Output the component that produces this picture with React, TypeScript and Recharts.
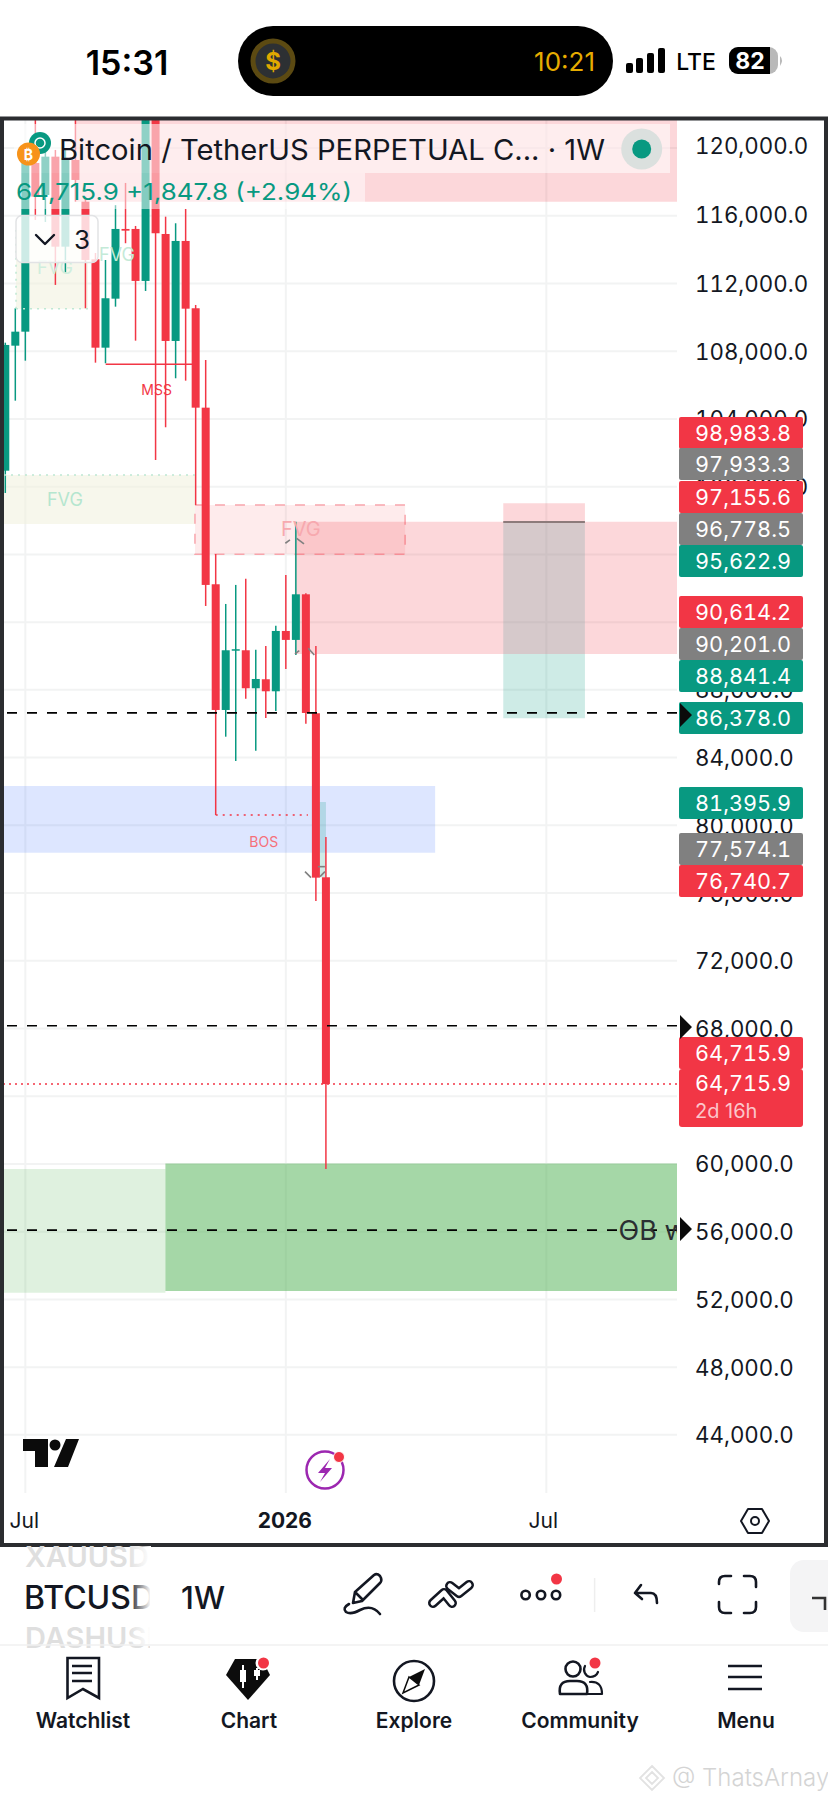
import { Bar, CartesianGrid, ComposedChart, ReferenceArea, ReferenceDot, ReferenceLine, XAxis, YAxis } from "recharts"

const weeks = [0, 1, 2, 3, 4, 5, 6, 7, 8, 9, 10, 11, 12, 13, 14, 15, 16, 17, 18, 19, 20, 21, 22, 23, 24, 25, 26, 27, 28, 29, 30, 31, 32]
const opens = [100945, 108327, 109154, 119117, 117228, 119490, 114174, 119295, 116832, 113430, 108209, 111103, 115220, 115220, 112150, 121650, 114923, 108605, 114511, 110536, 104666, 94236, 86812, 90338, 90338, 88094, 88626, 87916, 91478, 90950, 93643, 86617, 76931]
const highs = [108504, 110536, 119300, 121650, 119993, 119886, 119886, 121650, 117127, 113802, 113388, 116625, 117937, 115397, 121650, 121650, 115946, 115556, 116401, 110731, 107482, 96025, 93073, 94197, 94566, 90373, 90592, 91791, 94785, 97933, 93700, 90592, 79305]
const lows = [99628, 105079, 107441, 115752, 115632, 111915, 112639, 116832, 110536, 107323, 107288, 110631, 114377, 108623, 111558, 101577, 103508, 106402, 106260, 98919, 92954, 80609, 85234, 83800, 87480, 84408, 86340, 86753, 89233, 90060, 86003, 75530, 59700]
const closes = [108369, 109154, 119117, 117127, 119490, 114174, 119413, 118114, 113388, 108209, 111127, 115220, 115120, 112150, 121650, 114966, 108605, 114511, 110512, 104666, 94197, 86812, 90338, 90400, 88094, 88642, 87916, 91478, 90950, 93643, 86635, 76909, 64716]

const priceTicks = [44000, 48000, 52000, 56000, 60000, 64000, 68000, 72000, 76000, 80000, 84000, 88000, 92000, 96000, 100000, 104000, 108000, 112000, 116000, 120000]
const timeTicks = [2, 28, 54]
const timeLabels: Record<number, string> = { 2: "Jul", 28: "2026", 54: "Jul" }

const tagValues = ["98,983.8", "97,933.3", "97,155.6", "96,778.5", "95,622.9", "90,614.2", "90,201.0", "88,841.4", "86,378.0", "81,395.9", "77,574.1", "76,740.7", "64,715.9"]
const tagKinds = ["r", "g", "r", "g", "t", "r", "g", "t", "t", "t", "g", "r", "r"]
const tagTops = [417, 448, 481, 513, 545, 596, 628, 660, 702, 787, 833, 865, 1037]

const candles = weeks.map((w, i) => ({ w, o: opens[i], h: highs[i], l: lows[i], c: closes[i], range: [lows[i], highs[i]] }))

const GREEN = "#089981"
const RED = "#F23645"
const INK = "#131722"
const FONT = "Inter, 'Noto Sans', sans-serif"
const X_MIN = -0.13
const X_MAX = 67.04
const Y_MIN = 40567
const Y_MAX = 121655

const arrows = [
  [27.95, 96657, 28.41, 96852], [29.08, 96953, 29.81, 96616],
  [28.91, 90119, 29.34, 90314], [30.24, 90456, 30.84, 90060],
  [29.91, 77262, 30.51, 76908], [31.41, 76967, 31.9, 77262],
  [31.2, 77558, 31.9, 77558],
]

function Candle(props: any) {
  const { x, y, width, height, payload } = props
  const perPrice = height / (payload.h - payload.l)
  const top = y + (payload.h - Math.max(payload.o, payload.c)) * perPrice
  const bottom = y + (payload.h - Math.min(payload.o, payload.c)) * perPrice
  const color = payload.c >= payload.o ? GREEN : RED
  const cx = x + width / 2
  return (
    <g>
      <line x1={cx} x2={cx} y1={y} y2={y + height} stroke={color} strokeWidth={1.5} />
      <rect x={x} y={top} width={width} height={Math.max(bottom - top, 1.5)} fill={color} />
    </g>
  )
}

function TimeTick(props: any) {
  const { x, y, payload } = props
  const bold = payload.value === 28
  const nudge = payload.value === 54 ? -3 : payload.value === 2 ? -1 : -1
  return (
    <text x={x + nudge} y={y} textAnchor="middle" dominantBaseline="central" fontSize={21} fontWeight={bold ? 700 : 400} fontFamily={FONT} fill={INK}>
      {timeLabels[payload.value]}
    </text>
  )
}

function PriceTick(props: any) {
  const { x, y, payload } = props
  // the top labels get nudged up by the app
  const nudge = payload.value === 120000 ? -3 : payload.value === 116000 ? -1 : 0
  return (
    <text x={x} y={y + nudge} dominantBaseline="central" fontSize={22.3} fontFamily={FONT} fill={INK} style={{ fontVariantNumeric: "tabular-nums" }}>
      {`${payload.value.toLocaleString("en-US")}.0`}
    </text>
  )
}

function zoneLabel(value: string, fill: string, fontSize: number, clip?: boolean) {
  return (p: any) => (
    <text x={p.viewBox.x} y={p.viewBox.y} textAnchor="middle" dominantBaseline="central" fill={fill} fontSize={fontSize} fontFamily={FONT} clipPath={clip ? "url(#plotClip)" : undefined}>
      {value}
    </text>
  )
}

function Chart() {
  return (
    <ComposedChart width={828} height={1800} data={candles} margin={{ top: 120, left: 4, right: 4, bottom: 257 }}>
      <defs>
        <clipPath id="plotClip">
          <rect x={4} y={120} width={673} height={1373} />
        </clipPath>
      </defs>
      <CartesianGrid stroke="#f2f3f3" strokeWidth={2} syncWithTicks />
      <XAxis dataKey="w" type="number" domain={[X_MIN, X_MAX]} allowDataOverflow ticks={timeTicks} interval={0} height={50} axisLine={false} tickLine={false} tickMargin={21} tick={<TimeTick />} />
      <YAxis orientation="right" type="number" domain={[Y_MIN, Y_MAX]} allowDataOverflow ticks={priceTicks} interval={0} width={147} axisLine={false} tickLine={false} tickMargin={12} tick={<PriceTick />} />

      <ReferenceArea x1={7.06} x2={X_MAX} y1={116830} y2={Y_MAX} fill={RED} fillOpacity={0.2} ifOverflow="visible" />
      <ReferenceArea x1={1.07} x2={8.25} y1={110512} y2={115160} fill="#f1f1dc" fillOpacity={0.55} ifOverflow="visible" />
      <ReferenceArea x1={X_MIN} x2={18.93} y1={97797} y2={100691} fill="#f1f1dc" fillOpacity={0.55} ifOverflow="visible" />
      <ReferenceArea x1={18.93} x2={39.9} y1={96008} y2={98919} fill={RED} fillOpacity={0.1} stroke="#f8a5ac" strokeDasharray="10 10" strokeWidth={1.5} ifOverflow="visible" />
      <ReferenceArea x1={28.9} x2={X_MAX} y1={90120} y2={97933} fill={RED} fillOpacity={0.2} ifOverflow="visible" />
      <ReferenceArea x1={49.7} x2={57.85} y1={97915} y2={99020} fill={RED} fillOpacity={0.2} ifOverflow="visible" />
      <ReferenceArea x1={49.7} x2={57.85} y1={90120} y2={97915} fill="#7fa8a8" fillOpacity={0.3} ifOverflow="visible" />
      <ReferenceArea x1={49.7} x2={57.85} y1={86322} y2={90120} fill={GREEN} fillOpacity={0.2} ifOverflow="visible" />
      <ReferenceArea x1={X_MIN} x2={42.9} y1={78384} y2={82324} fill="#2962ff" fillOpacity={0.16} ifOverflow="visible" />
      <ReferenceArea x1={31.3} x2={32} y1={78384} y2={81376} fill={GREEN} fillOpacity={0.2} ifOverflow="visible" />
      <ReferenceArea x1={31.3} x2={32} y1={76930} y2={78384} fill={GREEN} fillOpacity={0.2} ifOverflow="visible" />
      <ReferenceArea x1={X_MIN} x2={15.98} y1={52390} y2={59700} fill="#4caf50" fillOpacity={0.18} ifOverflow="visible" />
      <ReferenceArea x1={15.98} x2={X_MAX} y1={52500} y2={60025} fill="#4caf50" fillOpacity={0.5} ifOverflow="visible" />

      <ReferenceLine segment={[{ x: X_MIN, y: 100691 }, { x: 18.93, y: 100691 }]} stroke="#bfe8d4" strokeDasharray="2 5" strokeWidth={1.5} ifOverflow="visible" />
      <ReferenceLine segment={[{ x: 1.07, y: 110512 }, { x: 8.25, y: 110512 }]} stroke="#bfe8d4" strokeDasharray="2 5" strokeWidth={1.5} ifOverflow="visible" />
      <ReferenceLine segment={[{ x: 1.07, y: 110512 }, { x: 1.07, y: 115160 }]} stroke="#bfe8d4" strokeDasharray="2 5" strokeWidth={1.5} ifOverflow="visible" />
      <ReferenceLine segment={[{ x: 49.7, y: 97915 }, { x: 57.85, y: 97915 }]} stroke="#8d7b7b" strokeWidth={2} ifOverflow="visible" />

      <Bar dataKey="range" barSize={8} shape={<Candle />} isAnimationActive={false} />

      <ReferenceLine segment={[{ x: 10.02, y: 107229 }, { x: 18.7, y: 107229 }]} stroke={RED} strokeWidth={1.5} ifOverflow="visible" />
      <ReferenceLine segment={[{ x: 21, y: 80610 }, { x: 30.2, y: 80610 }]} stroke={RED} strokeDasharray="2 5" strokeWidth={1.5} ifOverflow="visible" />
      <ReferenceLine y={86640} stroke="#000" strokeDasharray="10 10" strokeWidth={1.6} ifOverflow="visible" />
      <ReferenceLine y={68160} stroke="#000" strokeDasharray="10 10" strokeWidth={1.6} ifOverflow="visible" />
      <ReferenceLine y={56090} stroke="#000" strokeDasharray="10 10" strokeWidth={1.6} ifOverflow="visible" />
      <ReferenceLine y={64716} stroke={RED} strokeDasharray="2 4" strokeWidth={1.5} ifOverflow="visible" />
      {arrows.map((a, i) => (
        <ReferenceLine key={i} segment={[{ x: a[0], y: a[1] }, { x: a[2], y: a[3] }]} stroke="#808080" strokeWidth={1.6} ifOverflow="visible" />
      ))}

      <ReferenceDot x={5.95} y={99240} r={0} ifOverflow="visible" label={zoneLabel("FVG", "#b5e6cf", 18)} />
      <ReferenceDot x={4.96} y={112960} r={0} ifOverflow="visible" label={zoneLabel("FVG", "#cfeedd", 18)} />
      <ReferenceDot x={11.15} y={113740} r={0} ifOverflow="visible" label={zoneLabel("FVG", "#c4ead8", 18)} />
      <ReferenceDot x={29.5} y={97520} r={0} ifOverflow="visible" label={zoneLabel("FVG", "#f7a9af", 20)} />
      <ReferenceDot x={15.1} y={105750} r={0} ifOverflow="visible" label={zoneLabel("MSS", RED, 14)} />
      <ReferenceDot x={25.8} y={79070} r={0} ifOverflow="visible" label={zoneLabel("BOS", "#f5707a", 14)} />
      <ReferenceDot x={64.6} y={56090} r={0} ifOverflow="visible" label={zoneLabel("ΘB w", "#2b2f33", 27, true)} />
    </ComposedChart>
  )
}

function Chrome() {
  const stroke = { fill: "none", stroke: INK, strokeWidth: 2.6, strokeLinecap: "round", strokeLinejoin: "round" } as any
  const tnum = { fontVariantNumeric: "tabular-nums" }
  const navLabels: [string, number][] = [["Watchlist", 83], ["Chart", 249], ["Explore", 414], ["Community", 580], ["Menu", 746]]
  return (
    <svg width={828} height={1800} style={{ position: "absolute", left: 0, top: 0 }} fontFamily={FONT}>
      <defs>
        <clipPath id="symClip"><rect x={24} y={1540} width={126} height={110} /></clipPath>
        <linearGradient id="symFade" x1="0" x2="1" y1="0" y2="0">
          <stop offset="0" stopColor="#fff" stopOpacity={0} />
          <stop offset="1" stopColor="#fff" />
        </linearGradient>
      </defs>

      {/* legend panes sit above the candles */}
      <rect x={14} y={124} width={656} height={49} fill="#fff" fillOpacity={0.55} />
      <rect x={14} y={173} width={351} height={36} fill="#fff" fillOpacity={0.5} />
      <rect x={16} y={215.5} width={82} height={47} rx={6} fill="#fff" fillOpacity={0.8} stroke="#e2e3e5" strokeWidth={1.5} />

      <circle cx={40} cy={143} r={11} fill={GREEN} />
      <circle cx={40} cy={143} r={5} fill="none" stroke="#fff" strokeWidth={1.5} />
      <circle cx={28.5} cy={154} r={11.5} fill="#f7931a" />
      <text x={28.5} y={154} textAnchor="middle" dominantBaseline="central" fill="#fff" fontSize={14} fontWeight={700}>₿</text>
      <text x={59} y={150} dominantBaseline="central" fontSize={28} fill={INK} textLength={546} lengthAdjust="spacingAndGlyphs">Bitcoin / TetherUS PERPETUAL C... · 1W</text>
      <text x={16} y={192} dominantBaseline="central" fontSize={23} fill={GREEN} textLength={336} lengthAdjust="spacingAndGlyphs">64,715.9 +1,847.8 (+2.94%)</text>
      <circle cx={641.7} cy={149} r={20.5} fill="#dbe0de" />
      <circle cx={641.7} cy={149} r={9.5} fill={GREEN} />
      <path d="M36 235 L45 244 L54 235" {...stroke} strokeWidth={2.4} />
      <text x={82} y={239} textAnchor="middle" dominantBaseline="central" fontSize={26} fill={INK}>3</text>

      {/* axis price tags */}
      {tagValues.map((v, i) => (
        <g key={i}>
          <rect x={679} y={tagTops[i]} width={124} height={32} rx={2} fill={tagKinds[i] === "r" ? RED : tagKinds[i] === "t" ? GREEN : "#808080"} />
          <text x={695} y={tagTops[i] + 16} dominantBaseline="central" fontSize={21.7} fill="#fff" style={tnum}>{v}</text>
        </g>
      ))}
      <rect x={679} y={1069} width={124} height={58} rx={3} fill={RED} />
      <text x={695} y={1083} dominantBaseline="central" fontSize={21.7} fill="#fff" style={tnum}>64,715.9</text>
      <text x={695} y={1111} dominantBaseline="central" fontSize={20} fill="#fff" fillOpacity={0.72}>2d 16h</text>
      <path d="M680 703 L692 715 L680 727 Z M680 1015 L692 1027 L680 1039 Z M680 1217 L692 1229 L680 1241 Z" fill="#0b0b0b" />

      {/* frame */}
      <rect x={2} y={118.5} width={824} height={1426.5} fill="none" stroke="#2b2d30" strokeWidth={4} />

      {/* status bar */}
      <text x={127} y={62} textAnchor="middle" dominantBaseline="central" fontSize={34} fontWeight={600} fill="#000">15:31</text>
      <rect x={238} y={26} width={375} height={70} rx={35} fill="#000" />
      <circle cx={273} cy={61} r={20} fill="#2d3033" stroke="#5c4a12" strokeWidth={5} />
      <text x={273} y={61} textAnchor="middle" dominantBaseline="central" fontSize={24} fontWeight={700} fill="#e0a800">$</text>
      <text x={595} y={61} textAnchor="end" dominantBaseline="central" fontSize={26} fill="#e6ac00">10:21</text>
      <rect x={626} y={63} width={7} height={10} rx={2} fill="#000" />
      <rect x={636} y={58} width={7} height={15} rx={2} fill="#000" />
      <rect x={647} y={53} width={7} height={20} rx={2} fill="#000" />
      <rect x={658} y={48} width={7} height={25} rx={2} fill="#000" />
      <text x={696} y={62} textAnchor="middle" dominantBaseline="central" fontSize={23} fontWeight={500} fill="#000">LTE</text>
      <rect x={729} y={47} width={49} height={27} rx={9} fill="#b9b9b9" />
      <path d="M738 47 H770 V74 H738 A9 9 0 0 1 729 65 V56 A9 9 0 0 1 738 47 Z" fill="#000" />
      <path d="M780 56 Q784 60 780 66 Z" fill="#b9b9b9" />
      <text x={750} y={61} textAnchor="middle" dominantBaseline="central" fontSize={23} fontWeight={700} fill="#fff">82</text>

      {/* chart footer marks */}
      <path d="M23 1439 H48 V1467 H35 V1451 H23 Z M66 1439 H79 L68 1467 H54 Z" fill="#0b0b0b" />
      <circle cx={55} cy={1445} r={5.5} fill="#0b0b0b" />
      <circle cx={325} cy={1470} r={18.5} fill="none" stroke="#9c27b0" strokeWidth={2.5} />
      <path d="M330 1459 L318 1473 H325 L320 1482 L332 1468 H325 Z" fill="#9c27b0" />
      <circle cx={339} cy={1457} r={5.5} fill={RED} stroke="#fff" strokeWidth={1} />
      <path d="M741 1521 L748 1509 H762 L769 1521 L762 1533 H748 Z" {...stroke} strokeWidth={2} />
      <circle cx={755} cy={1521} r={4} {...stroke} strokeWidth={2} />

      {/* symbol picker */}
      <g clipPath="url(#symClip)">
        <text x={25} y={1556} dominantBaseline="central" fontSize={29} fontWeight={600} fill="#dfdfdf">XAUUSD</text>
        <text x={24} y={1597} dominantBaseline="central" fontSize={32} fontWeight={500} fill={INK}>BTCUSD</text>
        <text x={25} y={1637} dominantBaseline="central" fontSize={29} fontWeight={600} fill="#dfdfdf">DASHUSD</text>
      </g>
      <rect x={128} y={1546} width={23} height={100} fill="url(#symFade)" />
      <text x={203} y={1597} textAnchor="middle" dominantBaseline="central" fontSize={31} fontWeight={500} fill={INK}>1W</text>

      {/* drawing tools */}
      <path d="M353 1603 L355 1592 L374 1575 Q377 1573 380 1576 L381 1578 Q382 1581 380 1583 L362 1601 Z M356 1593 L363 1600" {...stroke} />
      <path d="M349 1604 Q342 1608 346 1612 Q351 1615 360 1610 Q372 1604 380 1614" {...stroke} />
      <path d="M433 1603 L444 1593 L452 1603 M450 1586 L459 1593 L469 1585" fill="none" stroke={INK} strokeWidth={10} strokeLinecap="round" strokeLinejoin="round" />
      <path d="M433 1603 L444 1593 L452 1603 M450 1586 L459 1593 L469 1585" fill="none" stroke="#fff" strokeWidth={5} strokeLinecap="round" strokeLinejoin="round" />
      <circle cx={525.6} cy={1595} r={4.2} {...stroke} />
      <circle cx={541} cy={1595} r={4.2} {...stroke} />
      <circle cx={556} cy={1595} r={4.2} {...stroke} />
      <circle cx={556.5} cy={1579} r={5.5} fill={RED} />
      <line x1={594.6} x2={594.6} y1={1578} y2={1612} stroke="#eeeeee" strokeWidth={1.5} />
      <path d="M641 1585 L635 1593 L642 1599 M635 1593 H651 Q657 1593 657 1603" {...stroke} />
      <path d="M719 1584 V1582 Q719 1576 725 1576 H731 M744 1576 H750 Q756 1576 756 1582 V1587 M756 1602 V1607 Q756 1613 750 1613 H744 M731 1613 H725 Q719 1613 719 1607 V1602" {...stroke} />
      <rect x={790} y={1560} width={70} height={72} rx={14} fill="#f4f4f5" />
      <path d="M812 1598 H825 V1610" fill="none" stroke="#333" strokeWidth={2.6} />

      {/* bottom nav */}
      <line x1={0} x2={828} y1={1645} y2={1645} stroke="#f1f1f1" strokeWidth={1.5} />
      <path d="M67.5 1658 H99 V1698 L83 1689 L67.5 1698 Z M72 1666 H92 M72 1673 H92 M72 1681 H92" {...stroke} strokeLinecap="butt" strokeLinejoin="miter" />

      <path d="M235 1659 H262 L270 1675 L248 1700 L226 1675 Z" fill="#0c0c0c" />
      <path d="M243 1665 V1688 M257 1668 V1680" stroke="#fff" strokeWidth={2} />
      <rect x={240} y={1670} width={6} height={12} fill="#fff" />
      <rect x={254} y={1670} width={6} height={6} fill="#fff" />
      <circle cx={263} cy={1663} r={7.5} fill="#fff" />
      <circle cx={263.5} cy={1663} r={5.5} fill={RED} />

      <circle cx={414} cy={1681} r={20} {...stroke} />
      <path d="M425 1669 L409 1677 L403 1693 L419 1685 Z" fill="#0c0c0c" />
      <path d="M409 1677 L419 1685 L403 1693 Z" fill="#fff" stroke="#0c0c0c" strokeWidth={1.5} />

      <circle cx={573} cy={1669} r={7.5} {...stroke} />
      <path d="M560 1694 Q558 1681 570 1681 H577 Q589 1681 587 1694 Z" {...stroke} />
      <path d="M585 1666 A7.5 7.5 0 0 0 590 1677 Q596 1677 598 1672" {...stroke} strokeWidth={2.2} />
      <path d="M590 1682 Q602 1681 602 1694 H588" {...stroke} strokeWidth={2.2} />
      <circle cx={595} cy={1663} r={7.5} fill="#fff" />
      <circle cx={595} cy={1663} r={5.5} fill={RED} />

      <path d="M728 1666 H762 M728 1677 H762 M728 1689 H762" {...stroke} strokeLinecap="butt" />
      {navLabels.map(([t, x]) => (
        <text key={t} x={x} y={1728} textAnchor="middle" fontSize={21} fontWeight={600} fill={INK}>{t}</text>
      ))}

      <path d="M652 1766 L664 1778 L652 1790 L640 1778 Z M652 1772 L658 1778 L652 1784 L646 1778 Z" fill="none" stroke="#e2e2e2" strokeWidth={1.8} />
      <text x={672} y={1786} fontSize={24} fontWeight={300} fill="#d4d4d4">@ ThatsArnay</text>
    </svg>
  )
}

export default function App() {
  return (
    <div style={{ position: "absolute", left: 0, top: 0, width: 828, height: 1800, background: "#fff", overflow: "hidden" }}>
      <Chart />
      <Chrome />
    </div>
  )
}
